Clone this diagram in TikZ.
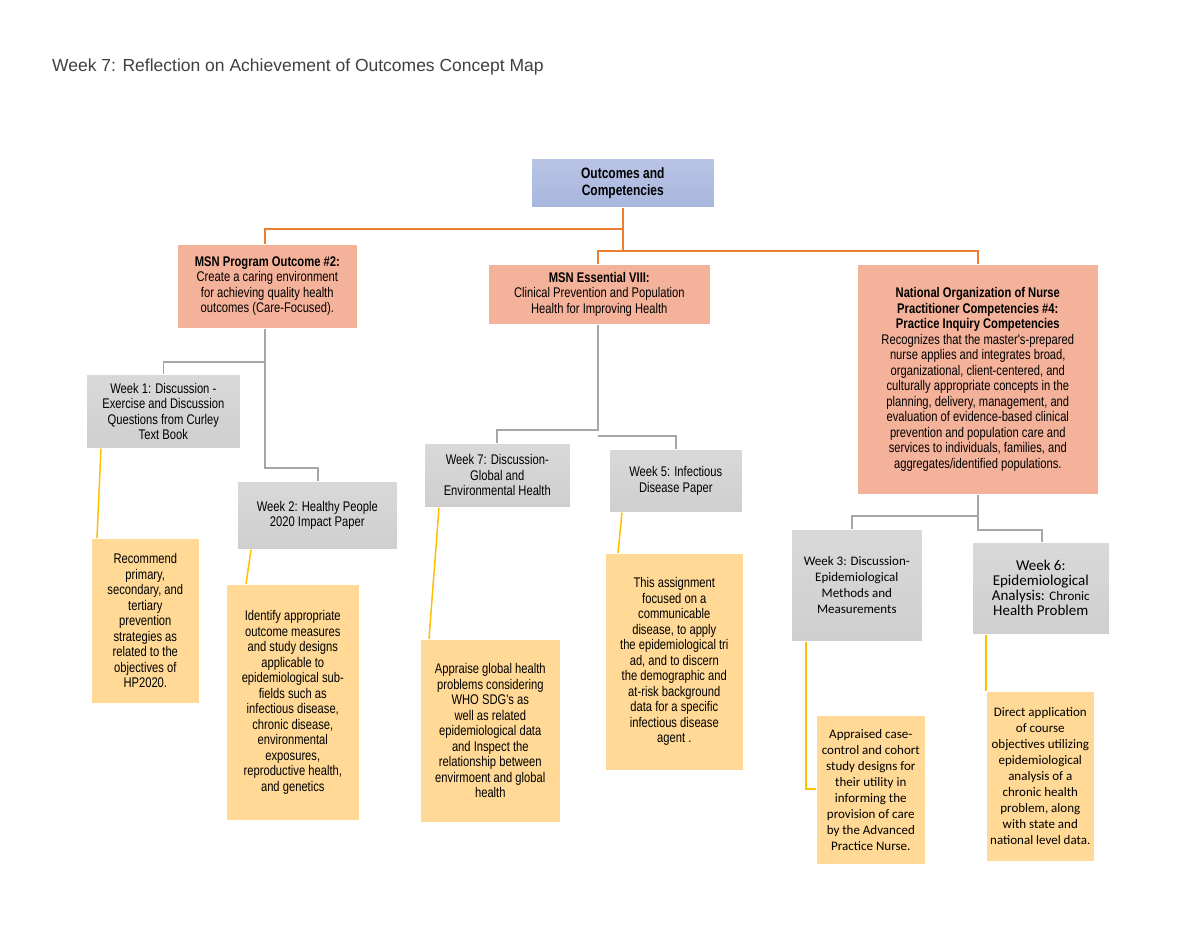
\documentclass[tikz,border=0pt]{standalone}
\usepackage{fontspec}
\setmainfont{Liberation Sans}
\newfontfamily\narrow[FakeStretch=0.8]{Liberation Sans}
\newfontfamily\calfont{Carlito}
\definecolor{blu}{HTML}{A8B6DE}
\definecolor{sal}{HTML}{F5B29A}
\definecolor{gry}{HTML}{CFCFCF}
\definecolor{yel}{HTML}{FFD995}
\definecolor{olin}{HTML}{ED7D31}
\definecolor{glin}{HTML}{A6A6A6}
\definecolor{ylin}{HTML}{FFC000}
\begin{document}
\begin{tikzpicture}[x=1pt,y=-1pt,
 bx/.style={anchor=north west,inner sep=0pt,align=center,font=\narrow\fontsize{14}{15.5}\selectfont,draw=white,line width=0.6pt},
 ol/.style={draw=olin,line width=1.5pt},
 gl/.style={draw=glin,line width=1.5pt},
 yl/.style={draw=ylin,line width=1.5pt}]
\fill[white] (0,0) rectangle (1200,927);
\node[anchor=west,inner sep=0pt,font=\fontsize{17.5}{20}\selectfont,text=black!75] (title) at (52,67) {Week 7: Reflection on Achievement of Outcomes Concept Map};
% boxes
\node[bx,top color=blu!80,bottom color=blu,minimum width=183pt,minimum height=49pt,font=\narrow\bfseries\fontsize{15}{17}\selectfont] (root) at (531,158) {Outcomes and\\Competencies};
\node[bx,fill=sal,minimum width=180pt,minimum height=84pt] (p1) at (177,244) {{\bfseries MSN Program Outcome \#2:}\\Create a caring environment\\for achieving quality health\\outcomes (Care-Focused).};
\node[bx,fill=sal,minimum width=222pt,minimum height=60pt] (p2) at (488,264) {{\bfseries MSN Essential VIII:}\\Clinical Prevention and Population\\Health for Improving Health};
\node[bx,fill=sal,minimum width=241pt,minimum height=230pt] (p3) at (857,264) {{\bfseries National Organization of Nurse}\\{\bfseries Practitioner Competencies \#4:}\\{\bfseries Practice Inquiry Competencies}\\Recognizes that the master's-prepared\\nurse applies and integrates broad,\\organizational, client-centered, and\\culturally appropriate concepts in the\\planning, delivery, management, and\\evaluation of evidence-based clinical\\prevention and population care and\\services to individuals, families, and\\aggregates/identified populations.};
\node[bx,top color=gry!80,bottom color=gry,minimum width=154pt,minimum height=74pt] (w1) at (86,374) {Week 1: Discussion -\\Exercise and Discussion\\Questions from Curley\\Text Book};
\node[bx,top color=gry!80,bottom color=gry,minimum width=160pt,minimum height=68pt] (w2) at (237,481) {Week 2: Healthy People\\2020 Impact Paper};
\node[bx,top color=gry!80,bottom color=gry,minimum width=146pt,minimum height=64pt] (w7) at (424,443) {Week 7: Discussion-\\Global and\\Environmental Health};
\node[bx,top color=gry!80,bottom color=gry,minimum width=133pt,minimum height=63pt] (w5) at (609,449) {Week 5: Infectious\\Disease Paper};
\node[bx,top color=gry!80,bottom color=gry,minimum width=131pt,minimum height=112pt,font=\calfont\fontsize{13}{16}\selectfont] (w3) at (791,529) {Week 3: Discussion-\\Epidemiological\\Methods and\\Measurements};
\node[bx,top color=gry!80,bottom color=gry,minimum width=137pt,minimum height=92pt,font=\calfont\fontsize{15}{15}\selectfont] (w6) at (972,542) {Week 6:\\Epidemiological\\Analysis: {\fontsize{13}{15}\selectfont Chronic}\\Health Problem};
\node[bx,fill=yel,minimum width=108pt,minimum height=165pt] (y1) at (91,538) {Recommend\\primary,\\secondary, and\\tertiary\\prevention\\strategies as\\related to the\\objectives of\\HP2020.};
\node[bx,fill=yel,minimum width=133pt,minimum height=236pt] (y2) at (226,584) {Identify appropriate\\outcome measures\\and study designs\\applicable to\\epidemiological sub-\\fields such as\\infectious disease,\\chronic disease,\\environmental\\exposures,\\reproductive health,\\and genetics};
\node[bx,fill=yel,minimum width=140pt,minimum height=183pt] (y3) at (420,639) {Appraise global health\\problems considering\\WHO SDG's as\\well as related\\epidemiological data\\and Inspect the\\relationship between\\envirmoent and global\\health};
\node[bx,fill=yel,minimum width=138pt,minimum height=217pt] (y4) at (605,553) {This assignment\\focused on a\\communicable\\disease, to apply\\the epidemiological tri\\ad, and to discern\\the demographic and\\at-risk background\\data for a specific\\infectious disease\\agent .};
\node[bx,fill=yel,minimum width=109pt,minimum height=149pt,font=\calfont\fontsize{13}{16}\selectfont] (y5) at (816,715) {Appraised case-\\control and cohort\\study designs for\\their utility in\\informing the\\provision of care\\by the Advanced\\Practice Nurse.};
\node[bx,fill=yel,minimum width=108pt,minimum height=170pt,font=\calfont\fontsize{13}{16}\selectfont] (y6) at (986,691) {Direct application\\of course\\objectives utilizing\\epidemiological\\analysis of a\\chronic health\\problem, along\\with state and\\national level data.};
% orange connectors
\draw[ol] (root.south) |- (265,229) -- (265,229 |- p1.north);
\draw[ol] (623,229) |- (598,251) -- (598,251 |- p2.north);
\draw[ol] (623,251) -| (p3.north);
% gray connectors
\draw[gl] (p1.south -| 265,0) |- (318,468) -- (318,468 |- w2.north);
\draw[gl] (265,362) -| (w1.north);
\draw[gl] (p2.south -| 598,0) |- (497,430) -- (497,430 |- w7.north);
\draw[gl] (598,436) -| (w5.north);
\draw[gl] (p3.south) |- (852,516) -- (852,516 |- w3.north);
\draw[gl] (978,516) |- (1042,530) -- (1042,530 |- w6.north);
% yellow connectors
\draw[yl] (w1.south -| 101,0) -- (y1.north -| 97,0);
\draw[yl] (w2.south -| 251,0) -- (y2.north -| 246,0);
\draw[yl] (w7.south -| 439,0) -- (y3.north -| 429,0);
\draw[yl] (w5.south -| 622,0) -- (y4.north -| 618,0);
\draw[yl] (w3.south -| 806,0) |- (y5.west |- 0,789);
\draw[yl] (w6.south -| 986,0) -- (y6.north -| 986,0);
\end{tikzpicture}
\end{document}
